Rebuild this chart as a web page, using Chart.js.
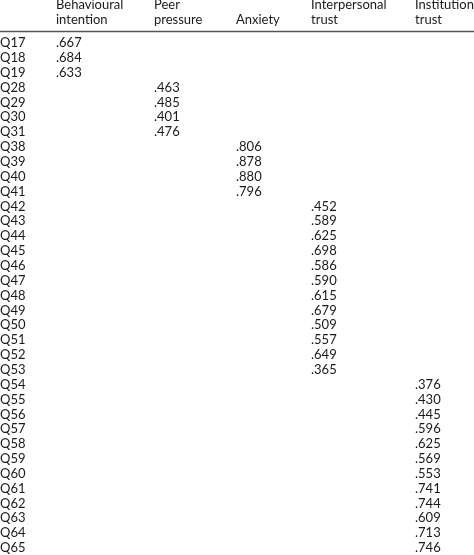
<!DOCTYPE html>
<html>
<head>
<meta charset="utf-8">
<script src="https://cdn.jsdelivr.net/npm/chart.js@4"></script>
<style>
  html, body { margin: 0; padding: 0; background: #fff; }
  #wrap { width: 474px; height: 555px; }
</style>
</head>
<body>
<div id="wrap"><canvas id="chart"></canvas></div>
<script>
var items = ["Q17", "Q18", "Q19", "Q28", "Q29", "Q30", "Q31", "Q38", "Q39", "Q40", "Q41",
    "Q42", "Q43", "Q44", "Q45", "Q46", "Q47", "Q48", "Q49", "Q50", "Q51", "Q52", "Q53",
    "Q54", "Q55", "Q56", "Q57", "Q58", "Q59", "Q60", "Q61", "Q62", "Q63", "Q64", "Q65"];
var factors = [["Behavioural", "intention"], ["Peer", "pressure"], ["", "Anxiety"], ["Interpersonal", "trust"], ["Institutional", "trust"]];
// factor index for each item, and its loading
var itemFactor = [0, 0, 0, 1, 1, 1, 1, 2, 2, 2, 2,
    3, 3, 3, 3, 3, 3, 3, 3, 3, 3, 3, 3,
    4, 4, 4, 4, 4, 4, 4, 4, 4, 4, 4, 4];
var loadings = [.667, .684, .633, .463, .485, .401, .476, .806, .878, .880, .796,
    .452, .589, .625, .698, .586, .590, .615, .679, .509, .557, .649, .365,
    .376, .430, .445, .596, .625, .569, .553, .741, .744, .609, .713, .746];

// left edge of each text column (layout only)
var colX = [0, 56, 154, 236, 311, 415];
var font = "13px Lato, 'Open Sans', sans-serif";
var ink = "#1a1a1a";

function fmt(v) {
    return v.toFixed(3).replace(/^0/, "");
}

var points = items.map(function (q, i) {
    return { x: itemFactor[i] + 1, y: i, label: fmt(loadings[i]) };
});

var tablePlugin = {
    id: "tableText",
    afterDraw: function (chart) {
        var ctx = chart.ctx;
        var ys = chart.scales.y;
        ctx.save();
        ctx.font = font;
        ctx.fillStyle = ink;
        ctx.textBaseline = "middle";
        ctx.textAlign = "left";
        // header
        factors.forEach(function (f, i) {
            ctx.fillText(f[0], colX[i + 1], 5);
            ctx.fillText(f[1], colX[i + 1], 20);
        });
        ctx.strokeStyle = "#555";
        ctx.lineWidth = 1.5;
        ctx.beginPath();
        ctx.moveTo(0, 31.5);
        ctx.lineTo(chart.width, 31.5);
        ctx.stroke();
        // rows
        items.forEach(function (q, i) {
            ctx.fillText(q, colX[0], ys.getPixelForValue(i));
        });
        points.forEach(function (p) {
            ctx.fillText(p.label, colX[p.x], ys.getPixelForValue(p.y));
        });
        ctx.restore();
    }
};

new Chart(document.getElementById("chart").getContext("2d"), {
    type: "scatter",
    data: { datasets: [{ data: points, pointRadius: 0 }] },
    options: {
        responsive: true,
        maintainAspectRatio: false,
        animation: false,
        layout: { padding: { top: 43, bottom: 7, left: 0, right: 0 } },
        plugins: { legend: { display: false }, tooltip: { enabled: false } },
        scales: {
            x: { display: false, min: 0, max: 5 },
            y: { display: false, reverse: true, min: 0, max: items.length - 1 }
        }
    },
    plugins: [tablePlugin]
});
</script>
</body>
</html>
